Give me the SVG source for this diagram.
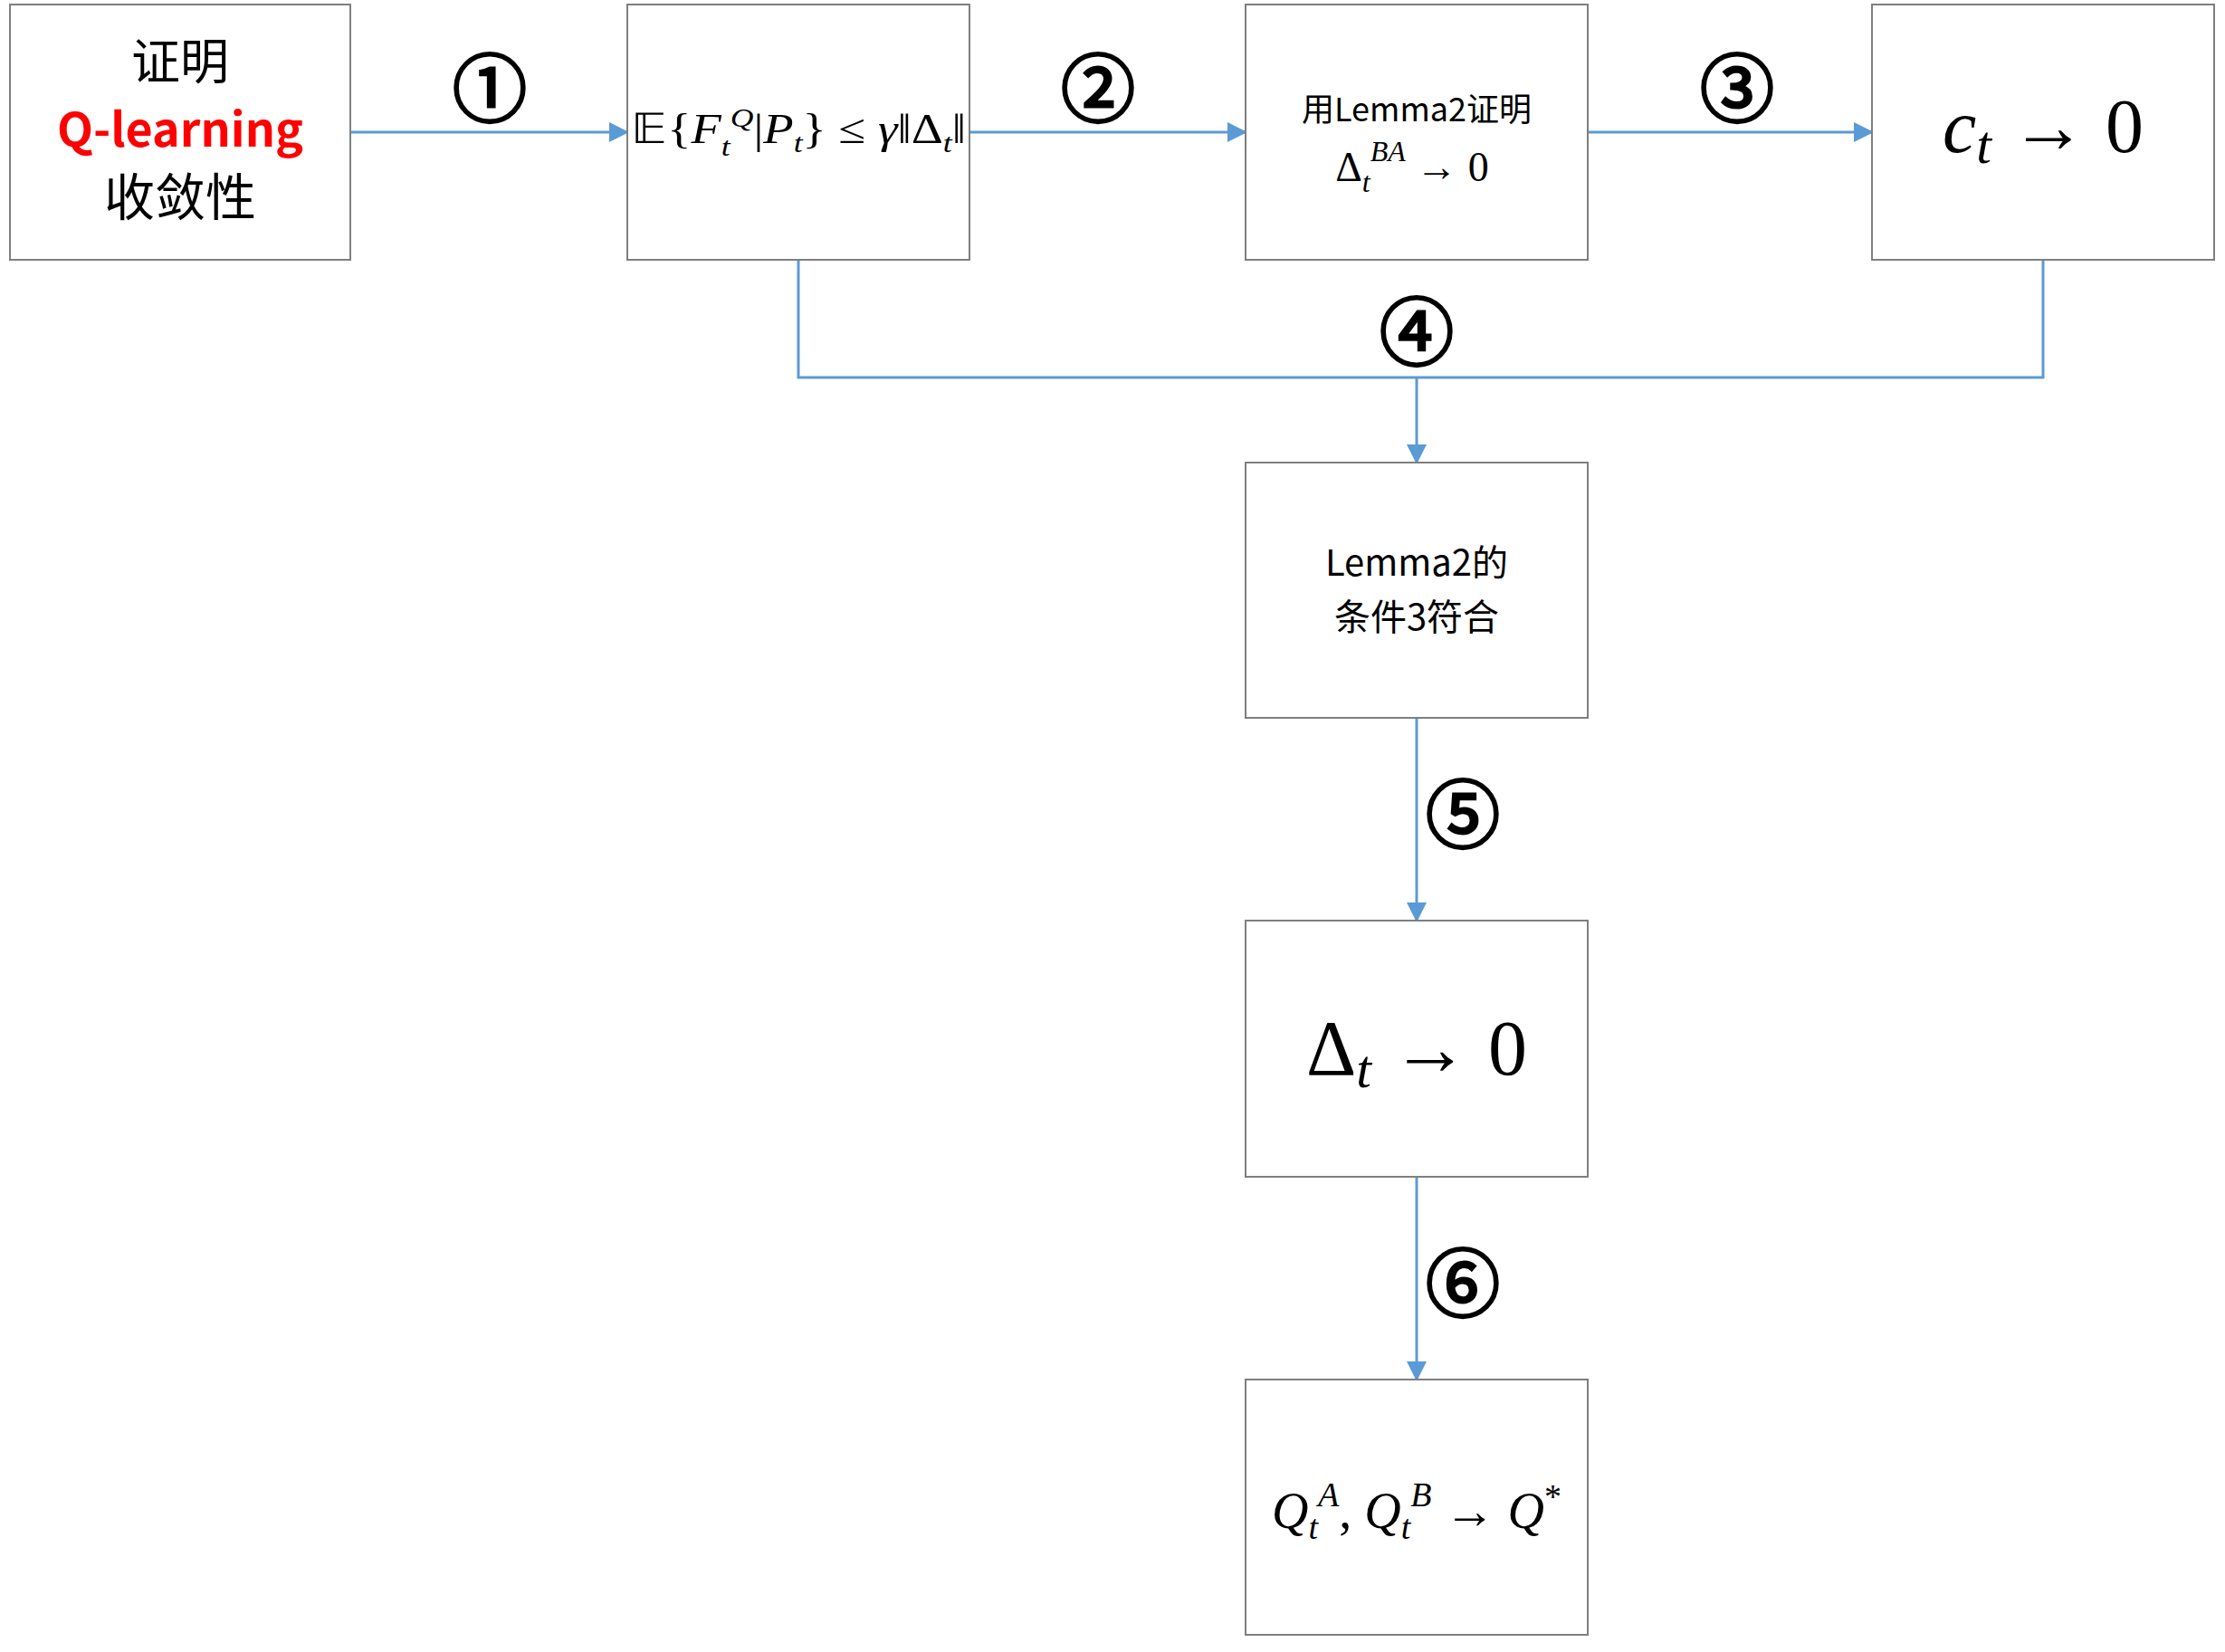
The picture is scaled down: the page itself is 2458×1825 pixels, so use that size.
<svg xmlns="http://www.w3.org/2000/svg" width="2458" height="1825" viewBox="0 0 2458 1825">
<style>
.box{fill:#fff;stroke:#7f7f7f;stroke-width:2}
.ln{fill:none;stroke:#5b9bd5;stroke-width:3}
.cjk{font-family:"Noto Sans CJK SC","Liberation Sans",sans-serif;text-anchor:middle;fill:#000}
.m{font-family:"Liberation Serif",serif;text-anchor:middle;fill:#000}
.i{font-style:italic}
.num{font-family:"Noto Sans CJK SC","DejaVu Sans",sans-serif;font-size:82px;text-anchor:middle;fill:#000;stroke:#000;stroke-width:3}
</style>
<defs>
<marker id="ahv" markerWidth="22" markerHeight="22" refX="20" refY="11" orient="auto" markerUnits="userSpaceOnUse"><path d="M0,0 L22,11 L0,22 z" fill="#5b9bd5"/></marker>
</defs>
<g id="connectors">
<line class="ln" x1="387" y1="146" x2="693" y2="146" marker-end="url(#ahv)"/>
<line class="ln" x1="1071" y1="146" x2="1376" y2="146" marker-end="url(#ahv)"/>
<line class="ln" x1="1754" y1="146" x2="2068" y2="146" marker-end="url(#ahv)"/>
<polyline class="ln" points="882,287 882,417 2257,417 2257,287"/>
<line class="ln" x1="1565" y1="417" x2="1565" y2="511" marker-end="url(#ahv)"/>
<line class="ln" x1="1565" y1="793" x2="1565" y2="1017" marker-end="url(#ahv)"/>
<line class="ln" x1="1565" y1="1300" x2="1565" y2="1524" marker-end="url(#ahv)"/>
<text class="num" x="541" y="128">①</text>
<text class="num" x="1213" y="128">②</text>
<text class="num" x="1919" y="128">③</text>
<text class="num" x="1565" y="397">④</text>
<text class="num" x="1616" y="930">⑤</text>
<text class="num" x="1616" y="1448">⑥</text>
</g>
<g id="n1"><rect class="box" x="11" y="5" width="376" height="282"/>
<text class="cjk" x="199" y="88" font-size="54">证明</text>
<text class="cjk" x="199" y="162" font-size="52" style="fill:#ff0000;font-weight:bold">Q-learning</text>
<text class="cjk" x="199" y="238" font-size="56">收敛性</text></g>
<g id="n2"><rect class="box" x="693" y="5" width="378" height="282"/>
<text class="m" x="882" y="158" font-size="46" textLength="370" lengthAdjust="spacingAndGlyphs">𝔼{<tspan class="i">F</tspan><tspan font-size="30" dy="14" class="i">t</tspan><tspan font-size="30" dy="-32" class="i">Q</tspan><tspan dy="18">|</tspan><tspan class="i">P</tspan><tspan font-size="30" dy="10" class="i">t</tspan><tspan dy="-10">} ≤ </tspan><tspan class="i">γ</tspan>‖Δ<tspan font-size="30" dy="10" class="i">t</tspan><tspan dy="-10">‖</tspan></text></g>
<g id="n3"><rect class="box" x="1376" y="5" width="378" height="282"/>
<text class="cjk" x="1565" y="134" font-size="36">用Lemma2证明</text>
<text class="m" x="1560" y="200" font-size="46">Δ<tspan font-size="32" dy="12" class="i">t</tspan><tspan font-size="32" dy="-34" class="i">BA</tspan><tspan dy="22"> → 0</tspan></text></g>
<g id="n4"><rect class="box" x="2068" y="5" width="378" height="282"/>
<text class="m" x="2257" y="168" font-size="84"><tspan class="i">c</tspan><tspan font-size="60" dy="12" class="i">t</tspan><tspan dy="-12"> → 0</tspan></text></g>
<g id="n5"><rect class="box" x="1376" y="511" width="378" height="282"/>
<text class="cjk" x="1565" y="636" font-size="40">Lemma2的</text>
<text class="cjk" x="1565" y="696" font-size="40">条件3符合</text></g>
<g id="n6"><rect class="box" x="1376" y="1017" width="378" height="283"/>
<text class="m" x="1565" y="1187" font-size="86">Δ<tspan font-size="60" dy="14" class="i">t</tspan><tspan dy="-14"> → 0</tspan></text></g>
<g id="n7"><rect class="box" x="1376" y="1524" width="378" height="282"/>
<text class="m" x="1565" y="1688" font-size="56"><tspan class="i">Q</tspan><tspan font-size="38" dy="12" class="i">t</tspan><tspan font-size="38" dy="-36" class="i">A</tspan><tspan dy="24">, </tspan><tspan class="i">Q</tspan><tspan font-size="38" dy="12" class="i">t</tspan><tspan font-size="38" dy="-36" class="i">B</tspan><tspan dy="24"> → </tspan><tspan class="i">Q</tspan><tspan font-size="38" dy="-22">*</tspan></text></g>
</svg>
